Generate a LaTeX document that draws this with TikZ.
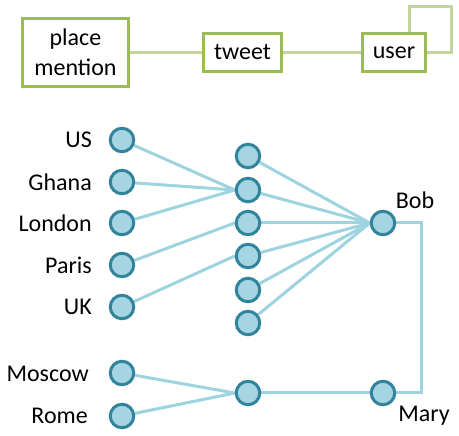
\documentclass[tikz,border=0pt]{standalone}
\usepackage{fontspec}
\setmainfont{Carlito}
\usetikzlibrary{shadows,backgrounds}
\pgfdeclarelayer{paper}
\pgfsetlayers{paper,background,main}
\definecolor{boxgreen}{HTML}{9BBB59}
\definecolor{linkgreen}{HTML}{C3D69B}
\definecolor{circfill}{HTML}{A5D5E2}
\definecolor{circdraw}{HTML}{31849B}
\definecolor{edgeblue}{HTML}{9ED3E0}
\tikzset{
  typebox/.style={draw=boxgreen, line width=3pt, fill=white, inner sep=0pt, align=center,
    font=\fontsize{24}{30}\selectfont,
    drop shadow={opacity=0.25, shadow xshift=1.5pt, shadow yshift=-1.5pt}},
  link/.style={draw=linkgreen, line width=3pt},
  vert/.style={circle, draw=circdraw, fill=circfill, line width=3pt, minimum size=23.5pt, inner sep=0pt},
  edge/.style={draw=edgeblue, line width=3pt},
  lab/.style={font=\fontsize{24}{28}\selectfont, inner sep=0pt}
}
\begin{document}
\begin{tikzpicture}[x=1pt, y=-1pt]
\begin{pgfonlayer}{paper}
\fill[white] (0,0) rectangle (459,436);
\end{pgfonlayer}
\useasboundingbox (0,0) rectangle (459,436);
% schema
\node[typebox, minimum width=106pt, minimum height=68pt] (place) at (75.5,52.5) {place\\mention};
\node[typebox, minimum width=78pt, minimum height=38pt] (tweet) at (242.5,52.5) {tweet};
\node[typebox, minimum width=63pt, minimum height=38pt] (user) at (394,52.5) {user};
\coordinate (l1) at (409,7);
\coordinate (l2) at (451,7);
\coordinate (l3) at (451,52.5);
\begin{scope}[on background layer]
\draw[link] (place.east) -- (tweet.west);
\draw[link] (tweet.east) -- (user.west);
\draw[link] (user.north -| l1) -- (l1) -- (l2) -- (l3) -- (user.east);
\end{scope}
% graph
\node[vert] (us) at (122,140) {};
\node[vert] (gh) at (122,182) {};
\node[vert] (lo) at (122,223) {};
\node[vert] (pa) at (122,265) {};
\node[vert] (uk) at (122,307) {};
\node[vert] (mo) at (122,373) {};
\node[vert] (ro) at (122,416) {};
\node[vert] (m1) at (248,156) {};
\node[vert] (m2) at (248,190) {};
\node[vert] (m3) at (248,223) {};
\node[vert] (m4) at (248,256) {};
\node[vert] (m5) at (248,290) {};
\node[vert] (m6) at (248,323) {};
\node[vert] (mb) at (248,393) {};
\node[vert] (bob) at (383,223) {};
\node[vert] (mary) at (383,393) {};
\coordinate (c1) at (421,223);
\coordinate (c2) at (421,393);
\node[lab, anchor=east] (tus) at (92,140) {US};
\node[lab, anchor=east] (tgh) at (92,182) {Ghana};
\node[lab, anchor=east] (tlo) at (92,223) {London};
\node[lab, anchor=east] (tpa) at (92,265) {Paris};
\node[lab, anchor=east] (tuk) at (92,307) {UK};
\node[lab, anchor=east] (tmo) at (89,374) {Moscow};
\node[lab, anchor=east] (tro) at (88,416) {Rome};
\node[lab] (tbob) at (415,200) {Bob};
\node[lab] (tmary) at (424,416) {Mary};
\begin{scope}[on background layer]
\draw[edge] (us) -- (m2.west);
\draw[edge] (gh) -- (m2.west);
\draw[edge] (lo) -- (m2.west);
\draw[edge] (pa) -- (m3.west);
\draw[edge] (uk) -- (m4.west);
\foreach \m in {m1,m2,m3,m4,m5,m6} \draw[edge] (\m) -- (bob.west);
\draw[edge] (mo) -- (mb.west);
\draw[edge] (ro) -- (mb.west);
\draw[edge] (mb) -- (mary);
\draw[edge] (bob.east) -- (c1) -- (c2) -- (mary.east);
\end{scope}
\end{tikzpicture}
\end{document}
